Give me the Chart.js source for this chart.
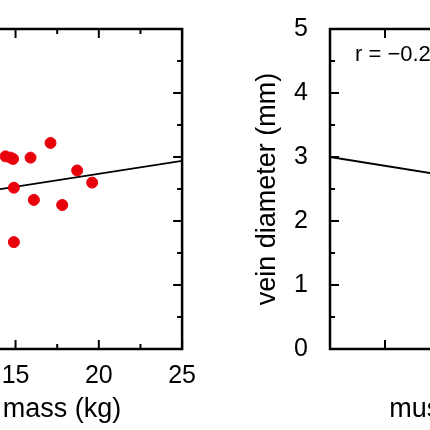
<!DOCTYPE html>
<html><head><meta charset="utf-8">
<script src="https://cdn.jsdelivr.net/npm/chart.js@4"></script>
<style>
html,body{margin:0;padding:0;width:430px;height:430px;overflow:hidden;background:#fff;position:relative}
canvas{position:absolute;top:0}
</style></head><body>
<div id="a" style="position:absolute;left:-234px;top:0;width:434px;height:430px"><canvas id="c1"></canvas></div>
<div id="b" style="position:absolute;left:215px;top:0;width:470px;height:430px"><canvas id="c2"></canvas></div>
<script>
const leftMassX = [14.4, 14.7, 14.85, 15.9, 17.1, 18.7, 19.6, 14.9, 16.1, 17.8, 14.9];
const leftDiamY = [3.01, 2.99, 2.97, 2.99, 3.22, 2.79, 2.60, 2.52, 2.33, 2.25, 1.67];
const leftFitX = [5, 25];
const leftFitY = [2.13, 2.94];
const rightFitX = [15, 45];
const rightFitY = [3.0, 2.175];
const rightLabel = "r = \u22120.21";

const FONT = "'Liberation Sans', Arial, sans-serif";
const innerTicks = {
  id:'innerTicks',
  afterDraw(ch, a, o){
    const c=ch.ctx, ca=ch.chartArea, x=ch.scales.x, y=ch.scales.y;
    c.save(); c.strokeStyle='#000'; c.lineWidth=2;
    const ln=(x1,y1,x2,y2)=>{c.beginPath();c.moveTo(x1,y1);c.lineTo(x2,y2);c.stroke();};
    for(let v=Math.ceil(x.min/o.xMinor-1e-9)*o.xMinor; v<=x.max+1e-9; v+=o.xMinor){
      const p=x.getPixelForValue(v);
      const major=Math.abs(v/o.xMajor-Math.round(v/o.xMajor))<1e-6;
      const L=major?9:5;
      ln(p,ca.bottom,p,ca.bottom-L); ln(p,ca.top,p,ca.top+L);
    }
    for(let v=0; v<=5+1e-9; v+=0.5){
      const p=y.getPixelForValue(v);
      const major=Math.abs(v-Math.round(v))<1e-6;
      const L=major?9:5;
      ln(ca.left,p,ca.left+L,p); ln(ca.right,p,ca.right-L,p);
    }
    c.lineWidth=2.5; c.strokeRect(ca.left,ca.top,ca.right-ca.left,ca.bottom-ca.top);
    if(o.text){c.fillStyle='#000';c.font='22px '+FONT;c.textBaseline='middle';c.fillText(o.text,ca.left+25,y.getPixelForValue(4.6));}
    c.restore();
  }
};
function make(id, datasets, xmin, xmax, xstep, xMinor, yW, padL, padR, xTitle, text){
  return new Chart(document.getElementById(id), {
    type:'scatter',
    data:{datasets},
    plugins:[innerTicks],
    options:{
      responsive:true, maintainAspectRatio:false, animation:false,
      layout:{padding:{top:14,right:padR,left:padL,bottom:0}},
      plugins:{legend:{display:false},tooltip:{enabled:false},innerTicks:{xMajor:xstep,xMinor,text}},
      scales:{
        x:{type:'linear',min:xmin,max:xmax,grid:{display:false},border:{display:false},
           afterBuildTicks(s){s.ticks=s.ticks.filter(t=>Math.abs(t.value/xstep-Math.round(t.value/xstep))<1e-6);},
           ticks:{stepSize:xstep,color:'#000',font:{size:25,family:FONT},padding:4},
           title:{display:true,text:xTitle,color:'#000',font:{size:27,family:FONT},padding:{top:6}},
           afterFit(s){s.height=81;}},
        y:{min:0,max:5,grid:{display:false},border:{display:false},
           ticks:{stepSize:1,color:'#000',font:{size:25,family:FONT},padding:14},
           title:{display:true,text:'vein diameter (mm)',color:'#000',font:{size:27,family:FONT},padding:{bottom:4}},
           afterFit(s){s.width=yW;}}
      }
    }
  });
}
make('c1',[
  {data:leftMassX.map((v,i)=>({x:v,y:leftDiamY[i]})),backgroundColor:'#e8000b',borderColor:'#e8000b',pointRadius:5.5},
  {type:'line',data:leftFitX.map((v,i)=>({x:v,y:leftFitY[i]})),borderColor:'#000',borderWidth:1.8,pointRadius:0}
],5,25,5,2.5,83,0,15,'muscle mass (kg)',null);
make('c2',[
  {type:'line',data:rightFitX.map((v,i)=>({x:v,y:rightFitY[i]})),borderColor:'#000',borderWidth:1.8,pointRadius:0}
],15,45,10,10,83,32,25,'muscle mass (kg)',rightLabel);
</script></body></html>
